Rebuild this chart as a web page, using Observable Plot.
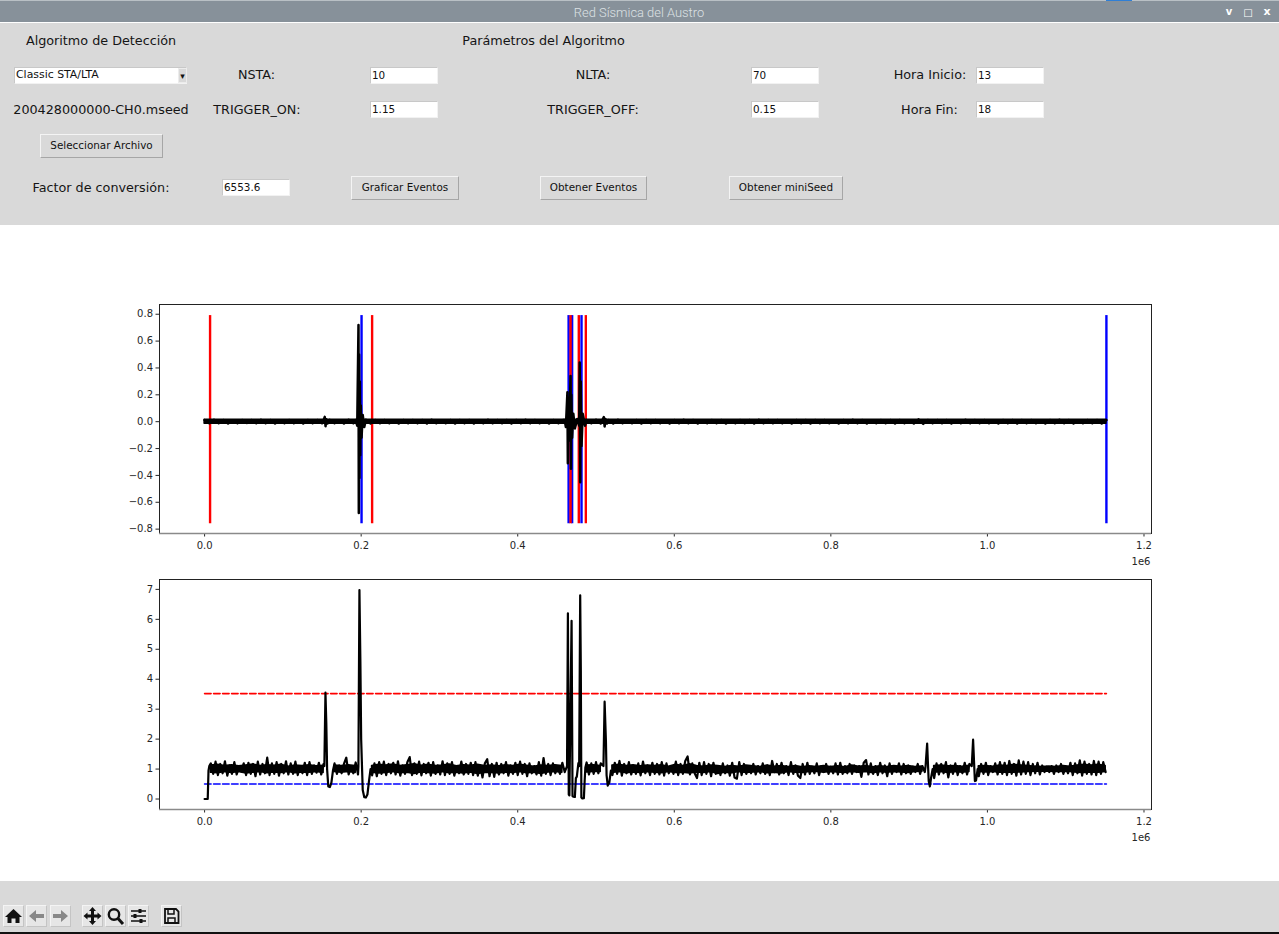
<!DOCTYPE html>
<html lang="es">
<head>
<meta charset="utf-8">
<title>Red Sísmica del Austro</title>
<script src="https://cdn.jsdelivr.net/npm/d3@7"></script>
<script src="https://cdn.jsdelivr.net/npm/@observablehq/plot@0.6"></script>
<style>
html,body{margin:0;padding:0;background:#fff;}
body{position:relative;width:1279px;height:934px;overflow:hidden;font-family:"DejaVu Sans",sans-serif;color:#111;}
.box{position:absolute;box-sizing:border-box;}
.lbl{position:absolute;transform:translate(-50%,-50%);font-size:12.75px;white-space:nowrap;color:#151515;}
.entry{position:absolute;box-sizing:border-box;background:#fff;border:1px solid #c8c8c8;border-right-color:#f2f2f2;border-bottom-color:#f2f2f2;font-size:10.4px;line-height:14px;padding-left:1px;color:#111;height:17px;}
.btn{position:absolute;box-sizing:border-box;height:24px;background:#d9d9d9;border:1px solid #a6a6a6;border-top-color:#f4f4f4;border-left-color:#f4f4f4;font-size:10.4px;line-height:21px;text-align:center;color:#111;white-space:nowrap;}
.tool{position:absolute;top:905px;width:21px;height:22px;box-sizing:border-box;background:#e6e6e6;border:1px solid #c4c4c4;border-top-color:#f4f4f4;border-left-color:#f4f4f4;}
.tool svg{display:block;width:19px;height:20px;}
.plot{position:absolute;left:0;}
.plot svg{display:block;background:transparent;}
</style>
</head>
<body>
<div class="box" style="left:0;top:0;width:1279px;height:22px;background:#87919a;border-top:1px solid #b9c0c5;"></div>
<div class="box" style="left:1106px;top:0;width:26px;height:1px;background:#2f7fd6;"></div>
<div class="lbl" style="left:639px;top:12px;font:300 12.9px Roboto,sans-serif;color:#dde1e4;">Red Sísmica del Austro</div>
<div class="lbl" style="left:1229px;top:11px;font:bold 10px 'DejaVu Sans';color:#fff;">v</div>
<div class="lbl" style="left:1248px;top:12px;font:bold 10px 'DejaVu Sans';color:#fff;">□</div>
<div class="lbl" style="left:1267px;top:11px;font:bold 11px 'DejaVu Sans';color:#fff;">x</div>

<div class="box" style="left:0;top:23px;width:1279px;height:202px;background:#d9d9d9;"></div>

<div class="lbl" style="left:101px;top:40px;">Algoritmo de Detección</div>
<div class="lbl" style="left:543.5px;top:40px;">Parámetros del Algoritmo</div>
<div class="lbl" style="left:256.5px;top:74px;">NSTA:</div>
<div class="lbl" style="left:593px;top:74px;">NLTA:</div>
<div class="lbl" style="left:930px;top:74px;">Hora Inicio:</div>
<div class="lbl" style="left:101px;top:109px;">200428000000-CH0.mseed</div>
<div class="lbl" style="left:257px;top:109px;">TRIGGER_ON:</div>
<div class="lbl" style="left:593px;top:109px;">TRIGGER_OFF:</div>
<div class="lbl" style="left:929.5px;top:109px;">Hora Fin:</div>
<div class="lbl" style="left:101px;top:187px;">Factor de conversión:</div>

<div class="entry" style="left:14px;top:66.5px;width:173px;font-size:10.9px;">Classic STA/LTA</div>
<div class="box" style="left:178px;top:68px;width:9px;height:15px;background:#d9d9d9;border:1px solid #ececec;"></div>
<div class="lbl" style="left:182.5px;top:76px;font-size:9px;color:#111;">▾</div>
<div class="entry" style="left:370px;top:66.5px;width:68px;">10</div>
<div class="entry" style="left:370px;top:101px;width:68px;">1.15</div>
<div class="entry" style="left:751px;top:66.5px;width:68px;">70</div>
<div class="entry" style="left:751px;top:101px;width:68px;">0.15</div>
<div class="entry" style="left:976px;top:66.5px;width:68px;">13</div>
<div class="entry" style="left:976px;top:101px;width:68px;">18</div>
<div class="entry" style="left:222px;top:179px;width:68px;">6553.6</div>

<div class="btn" style="left:40px;top:134px;width:123px;">Seleccionar Archivo</div>
<div class="btn" style="left:351px;top:176px;width:108px;">Graficar Eventos</div>
<div class="btn" style="left:540px;top:176px;width:107px;">Obtener Eventos</div>
<div class="btn" style="left:729px;top:176px;width:114px;">Obtener miniSeed</div>

<div id="plotA" class="plot" style="top:290px;"></div>
<div id="plotB" class="plot" style="top:570px;"></div>

<div class="box" style="left:0;top:881px;width:1279px;height:51px;background:#d9d9d9;"></div>
<div class="box" style="left:0;top:932px;width:1279px;height:2px;background:#111;"></div>

<div class="tool" style="left:3px;"><svg viewBox="0 0 19 20"><path d="M9.5 3 L18 11 H15.5 V17 H11.5 V12.5 H7.5 V17 H3.5 V11 H1 Z" fill="#111"/></svg></div>
<div class="tool" style="left:26px;"><svg viewBox="0 0 19 20"><path d="M2 10 L9 4 V8 H17 V12 H9 V16 Z" fill="#888"/></svg></div>
<div class="tool" style="left:50px;"><svg viewBox="0 0 19 20"><path d="M17 10 L10 4 V8 H2 V12 H10 V16 Z" fill="#888"/></svg></div>
<div class="tool" style="left:82px;"><svg viewBox="0 0 19 20"><path d="M9.5 1 L13 5 H11 V8.5 H14.5 V6.5 L18.5 10 L14.5 13.5 V11.5 H11 V15 H13 L9.5 19 L6 15 H8 V11.5 H4.5 V13.5 L.5 10 L4.5 6.5 V8.5 H8 V5 H6 Z" fill="#111"/></svg></div>
<div class="tool" style="left:105px;"><svg viewBox="0 0 19 20"><circle cx="8" cy="8.5" r="5.2" fill="none" stroke="#111" stroke-width="2.4"/><path d="M12 12.5 L17 18" stroke="#111" stroke-width="3"/></svg></div>
<div class="tool" style="left:128px;"><svg viewBox="0 0 19 20"><path d="M2 5 H17 M2 10 H17 M2 15 H17" stroke="#111" stroke-width="1.6"/><path d="M11 3 V7 M6 8 V12 M12 13 V17" stroke="#111" stroke-width="3"/></svg></div>
<div class="tool" style="left:161px;"><svg viewBox="0 0 19 20"><path d="M3 3 H14 L16.5 5.5 V17 H3 Z" fill="none" stroke="#111" stroke-width="1.8"/><path d="M6 3 H12 V8 H6 Z M6 12 H13 V17 H6 Z" fill="none" stroke="#111" stroke-width="1.5"/></svg></div>

<script>
// ---- shared axis values ----
const xTicks = [0, 200000, 400000, 600000, 800000, 1000000, 1200000];
const xDomain = [-57600, 1209600];
const amplitudeTicks = [-0.8, -0.6, -0.4, -0.2, 0, 0.2, 0.4, 0.6, 0.8];
const amplitudeDomain = [-0.8325, 0.8725];
const ratioTicks = [0, 1, 2, 3, 4, 5, 6, 7];
const ratioDomain = [-0.35, 7.33];

// ---- trigger markers (sample index, thousands) ----
const triggerOn = [7, 214, 467.5, 478, 487];
const triggerOff = [200.5, 465, 469.5, 481.5, 1152];
const markerRange = [-0.76, 0.79];
const thresholdOn = 3.52;
const thresholdOff = 0.5;
const thresholdSpan = [0, 1152];

// ---- top panel: seismogram ----
const wave1Start = 0, waveStep = 6;
const wave1 = [.012,-.012,.014,-.011,.012,-.013,.011,-.012,.013,-.01,.012,-.012,.014,-.011,.012,-.013,.01,-.012,.013,-.012,.011,-.014,.012,-.011,.013,-.012];
const burst1X = [152,153.5,154.5,155.5,157];
const burst1Y = [.012,.036,-.034,.018,-.014];
const wave2Start = 160;
const wave2 = [.013,-.012,.011,-.013,.014,-.012];
const burst2X = [193,195,196.6,197,197.4,197.8,198.3,198.8,199.5,200.5,202,204];
const burst2Y = [.012,-.03,.72,-.68,.5,-.42,.3,-.25,.12,-.12,.05,-.04];
const wave3Start = 206;
const wave3 = [.014,-.013,.012,-.011,.013,-.012,.011,-.014,.012,-.012,.013,-.011,.012,-.013,.014,-.012,.011,-.012,.013,-.014,.012,-.011,.012,-.013,.011,-.012,.014,-.012,.013,-.011,.012,-.013,.012,-.012,.014,-.011,.013,-.012,.011,-.013,.012,-.012,.013];
const burst3X = [460,461.5,463.5,464,464.5,465.5,467.5,468,468.5,469.5,471,473,476,478.5,479.2,479.8,480.5,481.5,483,486];
const burst3Y = [.012,-.04,.22,-.31,.18,-.14,.34,-.35,.2,-.12,.06,-.05,.02,-.03,.44,-.45,.3,-.18,.06,-.03];
const wave4Start = 488;
const wave4 = [.012,-.012,.014,-.013];
const burst4X = [510,511,512,514];
const burst4Y = [.034,-.036,.02,-.014];
const wave5Start = 516;
const wave5 = [.012,-.013,.014,-.012,.011,-.012,.013,-.014,.012,-.011,.013,-.012,.011,-.013,.012,-.012,.014,-.011,.012,-.013,.011,-.012,.013,-.012,.012,-.014,.011,-.012,.013,-.011,.012,-.013,.014,-.012,.012,-.011,.013,-.012,.011,-.013,.012,-.012,.013,-.014,.012,-.011,.013,-.012,.011,-.013,.012,-.012,.014,-.011,.012,-.013,.011,-.012,.013,-.012,.012,-.013,.012,-.012,.011,-.014,.017,-.016,.012,-.012,.013,-.011,.012,-.013,.011,-.012,.014,-.012,.012,-.011,.013,-.012,.011,-.013,.012,-.012,.013,-.014,.012,-.011,.013,-.012,.011,-.013,.012,-.012,.014,-.011,.012,-.013,.011,-.012,.013,-.012,.012,-.013,.012];
// dense envelope of the seismogram
const waveCoreX = [0,576,1152];
const waveCoreHi = [.015,.015,.015];
const waveCoreLo = [-.015,-.015,-.015];

// ---- bottom panel: STA/LTA characteristic function ----
const rampX = [0,3,4,5,6];
const rampY = [0,0,0,.95,1.1];
const noiseStep = 3;
const noise1Start = 8;
const noise1 = [1.19,.84,1.25,.8,1.17,.86,1.26,.78,1.12,.84,1.23,.82,1.08,.92,1.19,.8,1.21,.84,1.17,.76,1.25,.82,1.17,.86,1.38,.8,1.19,.84,1.23,.78,1.17,.86,1.26,.82,1.19,.84,1.25,.8,1.1,.86,1.21,.8,1.23,.84,1.12,.88,1.21,.82,1.17];
const peak1X = [153,154.4,155.5,156.5,158,160,162,164];
const peak1Y = [1.1,3.55,2.5,1.0,.42,.4,.55,.95];
const noise2Start = 166;
const noise2 = [1.19,.84,1.12,.86,1.17,1.38,.82,1.08,.86,1.22,.82];
const peak2X = [196.5,197.8,199,200,202,204,206,208,210,212];
const peak2Y = [1.1,6.98,4.6,2,.3,.06,.05,.15,.6,1.0];
const noise3Start = 214;
const noise3 = [.79,1.19,.76,1.23,.84,1.25,.8,1.17,.86,1.21,.82,1.26,.78,1.12,.84,1.23,1.4,.8,1.19,.84,1.25,.79,1.17,.86,1.21,.78,1.23,.84,1.12,.82,1.26,.8,1.19,.84,1.23,.78,1.1,.86,1.25,.82,1.17,.84,1.21,.8,1.23,.78,1.12,.72,1.19,1.33,.76,1.17,.74,1.21,.82,1.17,.86,1.23,.78,1.12,.84,1.21,.8,1.25,.84,1.17,.76,1.19,.86,1.1,.82,1.23,.78,1.37,.84,1.17,.8,1.19,.86,1.1,.84,1.21,.9];
const peak3X = [463,464.1,465.2,466,468.8,470,471,473,474.3,475.5,477.5,478.5,479.8,480.6,481.3,482.5,484.5,485.5,486.4];
const peak3Y = [1.1,6.2,.15,.12,5.95,.1,.08,.07,.7,.75,1.2,1.1,6.8,4.3,.05,.02,.03,.6,1.05];
const noise4Start = 488;
const noise4 = [1.22,.82,1.19,.84,1.23,.86,1.19];
const peak4X = [509.5,511,512.7,513.5,515,517,519];
const peak4Y = [1.1,3.25,1.9,.8,.45,.55,.95];
const noise5Start = 521;
const noise5 = [.8,1.21,.84,1.27,.78,1.17,.86,1.23,.82,1.1,.84,1.19,.79,1.25,.86,1.12,.8,1.21,.84,1.17,.82,1.23,.78,1.19,.86,1.1,.84,1.25,.8,1.17,.84,1.27,1.42,.82,1.19,.86,.7,1.21,.8,1.23,.84,1.17,.76,1.21,.84,1.1,.8,1.19,.86,1.12,.78,1.21,.72,.68,1.23,.8,1.17,.84,1.1,.86,1.17,.82,1.1,.86,1.19,.84,1.12,.8,1.27,.9,1.17,.82,1.21,.86,1.1,.8,1.23,.84,1.12,.78,.7,1.17,.82,1.21,.84,1.08,.86,1.19,.8,1.1,.9,1.17,.84,1.08,.86,1.19,.82,1.21,.84,1.1,.86,1.17,.84,1.12,.9,1.1,.74,1.21,1.3,.82,1.19,.84,1.1,.8,1.21,.86,1.12,.76,1.19,.84,1.1,.9,1.19,.82,1.17,.86,1.12,.84,1.08,.9,1.17,.84,1.1,.9];
const peak5X = [921,923,924,925,926.5,928,930];
const peak5Y = [1.1,1.85,1.2,.6,.42,.7,1.0];
const noise6Start = 932;
const noise6 = [.7,1.19,.82,1.17,.86,1.23,.72,1.12,.84,1.19,.8,1.1,.86,1.21,.82,1.17];
const peak6X = [980,981.7,982.8,984,985.5,987.5];
const peak6Y = [1.1,1.98,1.3,.6,.62,1.0];
const noise7Start = 989;
const noise7 = [.76,1.17,.84,1.21,.8,1.1,.9,1.19,.82,1.23,.84,1.21,.8,1.27,.84,1.17,.78,1.29,.82,1.25,.84,1.23,.8,1.17,.86,1.21,.82,1.12,.9,1.08,.9,1.1,.84,1.12,.9,1.17,.84,1.08,.86,1.21,.8,1.19,.86,1.29,.78,1.25,.84,1.17,.82,1.27,.8,1.25,.84,1.23,.9];

// dense envelope of the noise floor, one pair every 9 thousand samples
const coreStep = 9;
const core1Hi = [1.12,1.14,1.1,1.13,1.09,1.12,1.15,1.1,1.13,1.11,1.14,1.08,1.12,1.1,1.13,1.09,1.11];
const core1Lo = [.88,.86,.9,.87,.9,.85,.88,.9,.86,.89,.87,.9,.86,.89,.88,.9,.87];
const core2Hi = [1.12,1.1,1.13,1.1];
const core2Lo = [.9,.88,.9,.87];
const core3Hi = [1.1,1.14,1.12,1.15,1.1,1.13,1.16,1.11,1.14,1.1,1.12,1.15,1.09,1.13,1.11,1.14,1.1,1.12,1.09,1.13,1.1,1.14,1.11,1.08,1.12,1.1,1.13,1.1];
const core3Lo = [.88,.85,.87,.9,.86,.88,.84,.89,.87,.85,.9,.86,.88,.85,.89,.84,.87,.88,.85,.89,.87,.9,.86,.88,.84,.89,.9,.88];
const core4Hi = [1.12,1.13,1.1];
const core4Lo = [.89,.9,.9];
const core5Hi = [1.12,1.14,1.1,1.13,1.09,1.12,1.1,1.13,1.08,1.14,1.1,1.16,1.1,1.08,1.12,1.1,1.07,1.1,1.08,1.12,1.09,1.07,1.12,1.08,1.1,1.07,1.1,1.06,1.09,1.07,1.1,1.07,1.09,1.06,1.12,1.08,1.1,1.06,1.09,1.07,1.1,1.08,1.1,1.07,1.08];
const core5Lo = [.87,.9,.86,.89,.87,.9,.88,.86,.9,.87,.88,.85,.89,.87,.9,.84,.88,.86,.9,.87,.89,.9,.86,.88,.85,.9,.88,.87,.9,.91,.88,.9,.89,.87,.9,.88,.9,.86,.9,.88,.9,.89,.87,.9,.91];
const core6Hi = [1.1,1.12,1.09,1.1,1.08,1.11];
const core6Lo = [.88,.9,.87,.9,.88,.9];
const core7Hi = [1.09,1.1,1.08,1.12,1.1,1.14,1.12,1.1,1.08,1.07,1.08,1.07,1.1,1.08,1.12,1.14,1.12,1.14,1.1];
const core7Lo = [.9,.89,.9,.88,.89,.88,.89,.9,.91,.92,.91,.9,.91,.9,.88,.87,.89,.88,.9];

const regular = (start, step, ys) => ys.map((y, i) => ({x: (start + i * step) * 1000, y}));
const paired = (xs, ys) => xs.map((x, i) => ({x: x * 1000, y: ys[i]}));
const coreBand = (seg, start, hi, lo) => hi.map((h, i) => ({seg, x: (start + i * coreStep) * 1000, hi: h, lo: lo[i]}));

const waveform = [
  ...regular(wave1Start, waveStep, wave1), ...paired(burst1X, burst1Y),
  ...regular(wave2Start, waveStep, wave2), ...paired(burst2X, burst2Y),
  ...regular(wave3Start, waveStep, wave3), ...paired(burst3X, burst3Y),
  ...regular(wave4Start, waveStep, wave4), ...paired(burst4X, burst4Y),
  ...regular(wave5Start, waveStep, wave5)
];
const waveBand = waveCoreX.map((x, i) => ({x: x * 1000, hi: waveCoreHi[i], lo: waveCoreLo[i]}));
const ratio = [
  ...paired(rampX, rampY),
  ...regular(noise1Start, noiseStep, noise1), ...paired(peak1X, peak1Y),
  ...regular(noise2Start, noiseStep, noise2), ...paired(peak2X, peak2Y),
  ...regular(noise3Start, noiseStep, noise3), ...paired(peak3X, peak3Y),
  ...regular(noise4Start, noiseStep, noise4), ...paired(peak4X, peak4Y),
  ...regular(noise5Start, noiseStep, noise5), ...paired(peak5X, peak5Y),
  ...regular(noise6Start, noiseStep, noise6), ...paired(peak6X, peak6Y),
  ...regular(noise7Start, noiseStep, noise7)
];
const ratioBand = [
  ...coreBand(1, noise1Start, core1Hi, core1Lo),
  ...coreBand(2, noise2Start, core2Hi, core2Lo),
  ...coreBand(3, noise3Start, core3Hi, core3Lo),
  ...coreBand(4, noise4Start, core4Hi, core4Lo),
  ...coreBand(5, noise5Start, core5Hi, core5Lo),
  ...coreBand(6, noise6Start, core6Hi, core6Lo),
  ...coreBand(7, noise7Start, core7Hi, core7Lo)
];

const font = {fontFamily: "DejaVu Sans", fontSize: 10};
const xAxis = () => Plot.axisX({ticks: xTicks, tickSize: 3.5, tickPadding: 5, tickFormat: d => (d / 1e6).toFixed(1), label: null, color: "#262626", ...font});
const offsetLabel = () => Plot.text(["1e6"], {frameAnchor: "bottom-right", dy: 31, dx: -1, text: d => d, fill: "#262626", ...font, lineAnchor: "bottom"});
const bottomEdge = (v) => Plot.ruleY([v], {stroke: "#8a8a8a", strokeWidth: 1.6});
const frame = () => Plot.frame({stroke: "#222", strokeWidth: 1, fill: "none"});

const chartA = Plot.plot({
  width: 1279, height: 290,
  marginLeft: 159, marginRight: 128, marginTop: 14, marginBottom: 47,
  style: {background: "transparent", overflow: "visible"},
  x: {domain: xDomain},
  y: {domain: amplitudeDomain},
  marks: [
    Plot.ruleX(triggerOff.map(d => d * 1000), {y1: markerRange[0], y2: markerRange[1], stroke: "#0000ff", strokeWidth: 2.4}),
    Plot.ruleX(triggerOn.map(d => d * 1000), {y1: markerRange[0], y2: markerRange[1], stroke: "#ff0000", strokeWidth: 2.4}),
    Plot.areaY(waveBand, {x: "x", y1: "lo", y2: "hi", fill: "#000", stroke: "#000", strokeWidth: 1.5}),
    Plot.line(waveform, {x: "x", y: "y", stroke: "#000", strokeWidth: 2.5}),
    Plot.axisY({ticks: amplitudeTicks, tickSize: 3.5, tickPadding: 3, tickFormat: d3.format(".1f"), label: null, color: "#262626", ...font}),
    xAxis(),
    offsetLabel(),
    frame(),
    bottomEdge(amplitudeDomain[0])
  ]
});
document.getElementById("plotA").append(chartA);

const chartB = Plot.plot({
  width: 1279, height: 290,
  marginLeft: 159, marginRight: 128, marginTop: 9, marginBottom: 51,
  style: {background: "transparent", overflow: "visible"},
  x: {domain: xDomain},
  y: {domain: ratioDomain},
  marks: [
    Plot.line(paired(thresholdSpan, [thresholdOn, thresholdOn]), {x: "x", y: "y", stroke: "#ff0000", strokeWidth: 1.6, strokeDasharray: "6.5,2.5"}),
    Plot.line(paired(thresholdSpan, [thresholdOff, thresholdOff]), {x: "x", y: "y", stroke: "#0000ff", strokeWidth: 1.6, strokeDasharray: "6.5,2.5"}),
    Plot.areaY(ratioBand, {x: "x", y1: "lo", y2: "hi", z: "seg", fill: "#000", stroke: "#000", strokeWidth: 1.6}),
    Plot.line(ratio, {x: "x", y: "y", stroke: "#000", strokeWidth: 2.2}),
    Plot.axisY({ticks: ratioTicks, tickSize: 3.5, tickPadding: 3, tickFormat: d3.format("d"), label: null, color: "#262626", ...font}),
    xAxis(),
    offsetLabel(),
    frame(),
    bottomEdge(ratioDomain[0])
  ]
});
document.getElementById("plotB").append(chartB);
</script>
</body>
</html>
